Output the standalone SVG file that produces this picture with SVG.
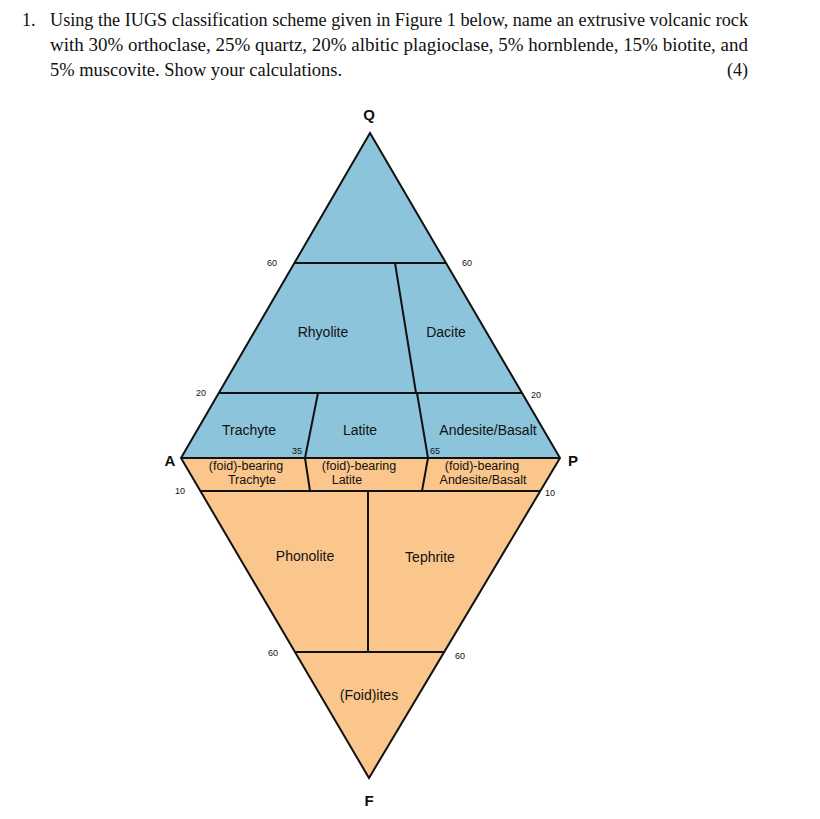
<svg xmlns="http://www.w3.org/2000/svg" width="820" height="819" viewBox="0 0 820 819">
<style>
.q{font-family:"Liberation Sans",serif;font-family:"Liberation Serif",serif;font-size:18px;fill:#111}
.l{font-family:"Liberation Sans",Arial,sans-serif;font-size:14px;fill:#111;text-anchor:middle}
.s{font-family:"Liberation Sans",Arial,sans-serif;font-size:12.5px;fill:#111;text-anchor:middle}
.n{font-family:"Liberation Sans",Arial,sans-serif;font-size:9px;fill:#111;text-anchor:middle}
.v{font-family:"Liberation Sans",Arial,sans-serif;font-size:15px;font-weight:bold;fill:#111;text-anchor:middle}
.e{fill:none;stroke:#111;stroke-width:2}
</style>
<rect width="820" height="819" fill="#fff"/>
<g id="question">
<text class="q" x="22" y="26">1.</text>
<text class="q" x="50" y="26" textLength="698" lengthAdjust="spacingAndGlyphs">Using the IUGS classification scheme given in Figure 1 below, name an extrusive volcanic rock</text>
<text class="q" x="50" y="51" textLength="698" lengthAdjust="spacingAndGlyphs">with 30% orthoclase, 25% quartz, 20% albitic plagioclase, 5% hornblende, 15% biotite, and</text>
<text class="q" x="50" y="76" textLength="292" lengthAdjust="spacingAndGlyphs">5% muscovite. Show your calculations.</text>
<text class="q" x="748" y="76" text-anchor="end">(4)</text>
</g>
<g id="upper-triangle">
<polygon points="370,133 181,458 560,458" fill="#8cc4dc"/>
</g>
<g id="lower-triangle">
<polygon points="181,458 560,458 369,778" fill="#fbc68c"/>
</g>
<g id="connectors">
<polygon class="e" points="370,133 560,458 369,778 181,458"/>
<line class="e" x1="181" y1="458" x2="560" y2="458"/>
<line class="e" x1="294" y1="263" x2="446" y2="263"/>
<line class="e" x1="219" y1="393" x2="522" y2="393"/>
<line class="e" x1="200" y1="491" x2="540" y2="491"/>
<line class="e" x1="295" y1="652" x2="444" y2="652"/>
<line class="e" x1="395" y1="263" x2="416" y2="393"/>
<line class="e" x1="318" y1="393" x2="305" y2="458"/>
<line class="e" x1="417" y1="393" x2="428" y2="458"/>
<line class="e" x1="305" y1="458" x2="310" y2="491"/>
<line class="e" x1="428" y1="458" x2="422" y2="491"/>
<line class="e" x1="368" y1="491" x2="368" y2="652"/>
</g>
<g id="vertices">
<text class="v" x="369" y="120">Q</text>
<text class="v" x="170" y="466">A</text>
<text class="v" x="573" y="466">P</text>
<text class="v" x="369" y="806">F</text>
</g>
<g id="ticks">
<text class="n" x="272" y="266">60</text>
<text class="n" x="467" y="266">60</text>
<text class="n" x="201" y="396">20</text>
<text class="n" x="536" y="398">20</text>
<text class="n" x="297" y="454">35</text>
<text class="n" x="435" y="454">65</text>
<text class="n" x="180" y="494">10</text>
<text class="n" x="550" y="496">10</text>
<text class="n" x="273" y="656">60</text>
<text class="n" x="460" y="659">60</text>
</g>
<g id="labels">
<text class="l" x="323" y="337">Rhyolite</text>
<text class="l" x="446" y="337">Dacite</text>
<text class="l" x="249" y="435">Trachyte</text>
<text class="l" x="360" y="435">Latite</text>
<text class="l" x="488" y="435">Andesite/Basalt</text>
<text class="s" x="246" y="470">(foid)-bearing</text>
<text class="s" x="252" y="484">Trachyte</text>
<text class="s" x="359" y="470">(foid)-bearing</text>
<text class="s" x="347" y="484">Latite</text>
<text class="s" x="482" y="470">(foid)-bearing</text>
<text class="s" x="483" y="484">Andesite/Basalt</text>
<text class="l" x="305" y="561">Phonolite</text>
<text class="l" x="430" y="562">Tephrite</text>
<text class="l" x="369" y="700">(Foid)ites</text>
</g>
</svg>
